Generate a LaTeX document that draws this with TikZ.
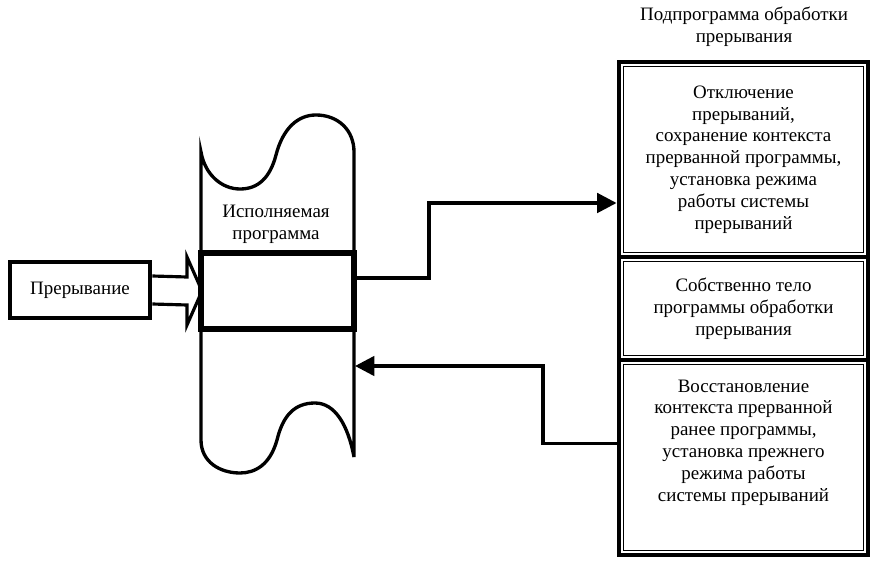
\documentclass[tikz,border=0pt]{standalone}
\usepackage{fontspec}
\setmainfont{Liberation Serif}
\usetikzlibrary{arrows.meta,positioning,calc}

\begin{document}
\begin{tikzpicture}[x=0.02cm,y=-0.02cm,
  txt/.style={font=\fontsize{10.8}{12.4}\selectfont,align=center},
  sect/.style={draw,line width=2.8pt,minimum width=4.98cm,inner sep=0pt},
  conn/.style={line width=2pt,-{Triangle[length=11pt,width=11pt]}},
  hollow/.style={line width=1.8pt,line join=miter}]
\useasboundingbox (0,0) rectangle (886,564);

% Interrupt source
\node[draw,line width=2.7pt,minimum width=2.8cm,minimum height=1.12cm,txt] (irq) at (80,290) {Прерывание};

% Running program (tape)
\draw[line width=1.9pt] (201,152) .. controls (205,175) and (222,189) .. (240,189)
  .. controls (258,189) and (270,178) .. (276,155)
  .. controls (283,128) and (298,115) .. (316,115)
  .. controls (338,115) and (354,130) .. (354,152) -- (354,457)
  .. controls (348,425) and (335,403) .. (315,403)
  .. controls (295,403) and (283,415) .. (277,440)
  .. controls (270,465) and (255,473) .. (240,473)
  .. controls (220,473) and (201,462) .. (201,440) -- cycle;
\node[txt] (runlbl) at (276,224) {Исполняемая\\программа};

% Hollow input arrow
\coordinate (runw) at (202,291);
\draw[hollow] ($(irq.east)+(0,-14)$) -- ($(runw)+(-15,-14)$) -- ($(runw)+(-15,-34)$) -- (runw)
  -- ($(runw)+(-15,34)$) -- ($(runw)+(-15,14)$) -- ($(irq.east)+(0,14)$);
\node[draw,fill=white,line width=3pt,minimum width=3.06cm,minimum height=1.52cm] (run) at (277.5,291) {};

% Interrupt handler
\node[txt] (title) at (744,27) {Подпрограмма обработки\\прерывания};
\node[sect,minimum height=3.9cm,txt] (s1) at (743.5,159.5) {Отключение\\прерываний,\\сохранение контекста\\прерванной программы,\\установка режима\\работы системы\\прерываний};
\node[sect,minimum height=2.06cm,txt] (s2) at (743.5,308.5) {Собственно тело\\программы обработки\\прерывания};
\node[sect,minimum height=3.9cm] (s3) at (743.5,457.5) {};
\node[txt,anchor=north] (t3) at ($(s3.north)+(0,16)$) {Восстановление\\контекста прерванной\\ранее программы,\\установка прежнего\\режима работы\\системы прерываний};
\foreach \s in {s1,s2,s3}
  \draw[line width=0.9pt] ([shift={(7,7)}]\s.north west) rectangle ([shift={(-7,-7)}]\s.south east);

% Connectors
\coordinate (k1) at (429,203);
\coordinate (k2) at (543,366);
\coordinate (back) at (355,366);
\draw[conn] ($(run.east)+(0,-13)$) -| (k1) -- (s1.west |- k1);
\draw[conn] ($(s3.west)+(0,-14)$) -| (k2) -- (back);
\end{tikzpicture}
\end{document}
